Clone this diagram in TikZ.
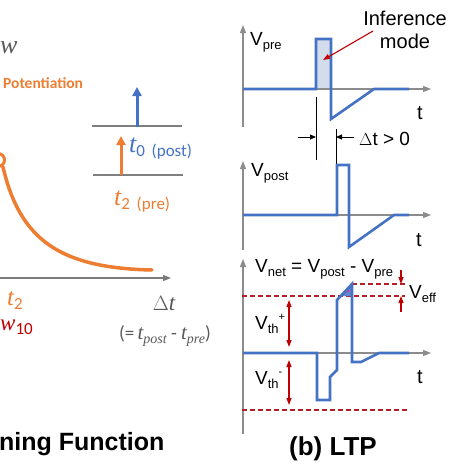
\documentclass[tikz,border=0pt]{standalone}
\usepackage{fontspec}
\setmainfont{Liberation Sans}
\newfontfamily\calib{Carlito}
\newfontfamily\serif{Liberation Serif}
\usetikzlibrary{arrows.meta}
\definecolor{sblue}{HTML}{4472C4}
\definecolor{sorange}{HTML}{ED7D31}
\definecolor{sred}{HTML}{C00000}
\definecolor{sgray}{HTML}{8C8C8C}
\definecolor{lgray}{HTML}{7F7F7F}
\definecolor{dgray}{HTML}{595959}
\definecolor{dred}{HTML}{B4202A}
\definecolor{fillblue}{HTML}{D3DCEA}
\newcommand\lowtx[1]{\raisebox{-4pt}{\fontsize{13}{13}\selectfont #1}}
\newcommand\hightx[1]{\raisebox{9pt}{\fontsize{11}{11}\selectfont #1}}
\newcommand\itv[2]{{\serif\itshape\fontsize{#1}{#1}\selectfont #2}}
\newcommand\isub[2]{\raisebox{-4pt}{\fontsize{#1}{#1}\selectfont #2}}
\begin{document}
\begin{tikzpicture}[x=1pt,y=-1pt,
  axis/.style={draw=sgray, line width=1.3pt, -{Triangle[length=8pt,width=6pt]}},
  sig/.style={draw=sblue, line width=2.6pt, line join=miter},
  thr/.style={draw=dred, line width=1.2pt, dash pattern=on 5pt off 3pt},
  redarr/.style={draw=sred, line width=1.1pt, -{Triangle[length=7pt,width=5pt]}},
  redboth/.style={draw=sred, line width=1.1pt, {Triangle[length=7pt,width=5pt]}-{Triangle[length=7pt,width=5pt]}},
  blkarr/.style={draw=black, line width=0.9pt, -{Triangle[length=6pt,width=5pt]}},
  marker/.style={draw=black, line width=0.9pt},
  lbl/.style={font=\fontsize{19}{22}\selectfont, inner sep=0pt},
  tl/.style={font=\fontsize{20}{22}\selectfont, inner sep=0pt},
  captxt/.style={font=\bfseries\fontsize{26}{28}\selectfont, inner sep=0pt},
  evt/.style={line width=3pt, -{Triangle[length=9pt,width=9pt]}},
  tickline/.style={draw=lgray, line width=1.5pt},
  free/.style={inner sep=0pt, anchor=base west}
]
\useasboundingbox (0,0) rectangle (474,474);

%% ---------------- left panel (a) ----------------
\node[free, text=dgray] (w) at (0,53) {\itv{26}{w}};
\node[free, text=sorange, font=\calib\bfseries\fontsize{15.5}{16}\selectfont] (pot) at (3,88) {Potentiation};

\draw[sorange, line width=3.5pt, line cap=round] (3,167) .. controls (20,240) and (60,268) .. (152,270);
\node[circle, draw=sorange, fill=white, line width=3pt, minimum size=13pt, inner sep=0pt] (c0) at (-2,160) {};

\coordinate (ax0) at (-5,278);
\coordinate (ax1) at (171,278);
\draw[axis, draw=dgray!80] (ax0) -- (ax1);

\node[free, text=sorange] (t2a) at (7,305) {\itv{25}{t}\isub{17}{\calib 2}};
\node[free, text=sred] (w10) at (0,330) {\itv{23}{w}\isub{17}{\calib 10}};
\node[inner sep=0pt, anchor=base, text=dgray] (dt) at (164,310) {{\serif\fontsize{22}{22}\selectfont$\Delta$}\itv{23}{t}};
\node[inner sep=0pt, anchor=base, text=dgray] (eq) at (165,339)
  {{\calib\fontsize{19}{19}\selectfont(=\,}\itv{21}{t}\isub{14}{\serif\itshape post}{\calib\fontsize{19}{19}\selectfont\ -\ }\itv{21}{t}\isub{14}{\serif\itshape pre}{\calib\fontsize{19}{19}\selectfont)}};
\node[free, captxt, font=\bfseries\fontsize{25}{28}\selectfont] (capa) at (-1,450) {ning Function};

%% timing diagram
\coordinate (l1a) at (92,126); \coordinate (l1b) at (182,126);
\coordinate (l2a) at (93,175); \coordinate (l2b) at (183,175);
\draw[tickline] (l1a) -- (l1b);
\draw[tickline] (l2a) -- (l2b);
\coordinate (pb) at (137,127); \coordinate (pt) at (137,87);
\coordinate (ob) at (121,175); \coordinate (ot) at (121,136);
\draw[evt, draw=sblue, fill=sblue] (pb) -- (pt);
\draw[evt, draw=sorange, fill=sorange] (ob) -- (ot);
\node[free, text=sblue] (t0) at (129,152)
  {\itv{26}{t}\isub{16}{\calib\fontsize{17}{17}\selectfont 0 \,(post)}};
\node[free, text=sorange] (t2) at (114,205)
  {\itv{26}{t}\isub{16}{\calib\fontsize{17}{17}\selectfont 2 \,(pre)}};

%% ---------------- right panel (b) ----------------
% V_pre
\fill[fillblue] (316,39) rectangle (331,89);
\draw[axis] (243,127) -- (243,25);
\draw[axis] (243,89) -- (431,89);
\draw[sig] (243,89) -- (316,89) -- (316,39) -- (331,39) -- (331,119) -- (374,89) -- (409,89);
\node[lbl, anchor=base west] (vpre) at (250,45) {V\lowtx{pre}};
\node[tl] (tpre) at (420,113) {t};
\node[tl, align=center, font=\fontsize{20}{23}\selectfont] (inf) at (405,30) {Inference\\mode};
\coordinate (infa) at (373,31);
\coordinate (infb) at (323,60);
\draw[redarr] (infa) -- (infb);

% delta t marks
\coordinate (m1a) at (316,97); \coordinate (m1b) at (316,160);
\coordinate (m2a) at (336,129); \coordinate (m2b) at (336,166);
\draw[marker] (m1a) -- (m1b);
\draw[marker] (m2a) -- (m2b);
\coordinate (a1) at (298,137); \coordinate (a1t) at (316,137);
\coordinate (a2) at (354,137); \coordinate (a2t) at (336,137);
\draw[blkarr] (a1) -- (a1t);
\draw[blkarr] (a2) -- (a2t);
\node[lbl, anchor=base west] (dtg) at (359,145) {$\Delta$t > 0};

% V_post
\draw[axis] (243,250) -- (243,161);
\draw[axis] (243,215) -- (431,215);
\draw[sig] (243,215) -- (337,215) -- (337,165) -- (349,165) -- (349,247) -- (394,215) -- (409,215);
\node[lbl, anchor=base west] (vpost) at (251,176) {V\lowtx{post}};
\node[tl] (tpost) at (419,240) {t};

% V_net
\draw[axis] (243,434) -- (243,259);
\draw[axis] (243,353) -- (431,353);
\draw[thr] (352,284) -- (405,284);
\draw[thr] (242,296) -- (405,296);
\draw[thr] (242,410) -- (409,410);
\fill[sblue!85!white] (341,296) -- (352,284) -- (352,296) -- cycle;
\fill[magenta!80!white] (348,291) circle (1.6pt);
\draw[sig] (243,353) -- (317,353) -- (317,400) -- (330,400) -- (330,377) -- (337,370) -- (337,300) -- (352,284) -- (352,362) -- (361,362) -- (379,353) -- (409,353);
\node[lbl, anchor=base west] (vnet) at (255,272) {V\lowtx{net} = V\lowtx{post} - V\lowtx{pre}};
\node[tl] (tnet) at (420,377) {t};

\coordinate (thp1) at (289,300); \coordinate (thp2) at (289,347);
\coordinate (thm1) at (289,360); \coordinate (thm2) at (289,405);
\draw[redboth] (thp1) -- (thp2);
\draw[redboth] (thm1) -- (thm2);
\node[lbl, anchor=base west] (vthp) at (255,329) {V\lowtx{th}\hightx{+}};
\node[lbl, anchor=base west] (vthm) at (255,384) {V\lowtx{th}\hightx{-}};

\coordinate (e1) at (401,270); \coordinate (e1t) at (401,284);
\coordinate (e2) at (401,312); \coordinate (e2t) at (401,296);
\draw[redarr] (e1) -- (e1t);
\draw[redarr] (e2) -- (e2t);
\node[lbl, anchor=base west] (veff) at (409,298) {V\lowtx{eff}};

\node[captxt, anchor=base] (capb) at (333,455) {(b) LTP};
\end{tikzpicture}
\end{document}
